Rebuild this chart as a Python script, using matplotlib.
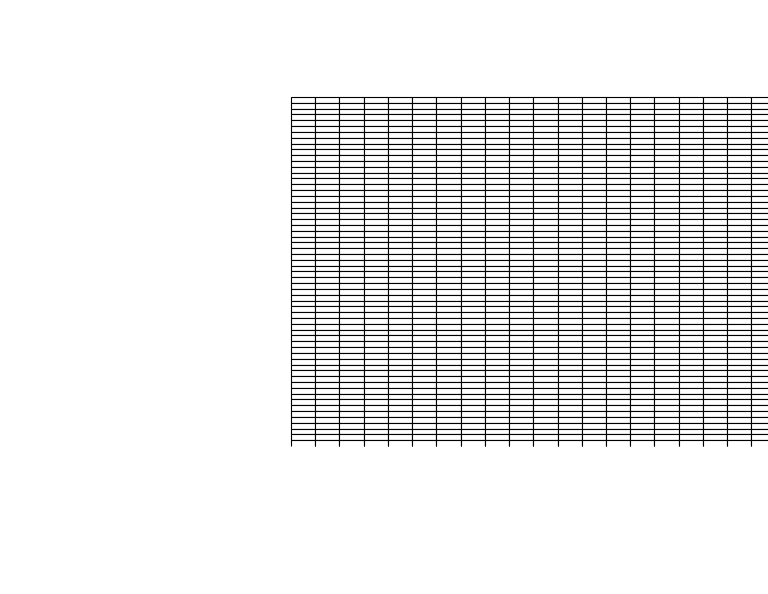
import matplotlib
matplotlib.use("Agg")
import matplotlib.pyplot as plt

# empty grid table: 60 rows, columns run past the right edge
n_rows = 60
n_cols = 24
cell_text = [[''] * n_cols for _ in range(n_rows)]

W, H = 768, 594
fig = plt.figure(figsize=(W / 100, H / 100), dpi=100)
ax = fig.add_axes([0, 0, 1, 1])
ax.axis('off')

col_w = 24.23
x0 = 291 / W
y_top = 97
y_bot = 446
bbox = [x0, 1 - y_bot / H, n_cols * col_w / W, (y_bot - y_top) / H]

tbl = ax.table(cellText=cell_text, bbox=bbox, cellLoc='center')
tbl.auto_set_font_size(False)
tbl.set_fontsize(4)
for (r, c), cell in tbl.get_celld().items():
    cell.set_linewidth(0.8)
    cell.set_edgecolor('black')
    if r == n_rows - 1:
        cell.visible_edges = 'TLR'
tbl.set_clip_on(False)

fig.savefig('out.png', dpi=100)
